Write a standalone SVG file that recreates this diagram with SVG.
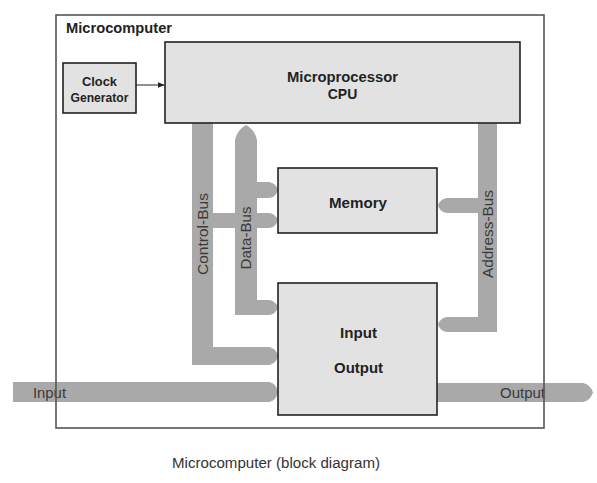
<svg xmlns="http://www.w3.org/2000/svg" width="597" height="483" viewBox="0 0 597 483">
<defs>
<style>
.bus{fill:#a9a9a9;}
.box{fill:#e2e2e2;stroke:#222;stroke-width:1.6;}
.lbl{font-family:"Liberation Sans",Arial,sans-serif;font-weight:bold;font-size:14px;fill:#222;text-anchor:middle;}
.buslbl{font-family:"Liberation Sans",Arial,sans-serif;font-size:14px;fill:#3a3a3a;}
</style>
<marker id="ah" viewBox="0 0 10 10" refX="9" refY="5" markerWidth="7" markerHeight="7" orient="auto">
<path d="M0,1 L10,5 L0,9 Z" fill="#222"/>
</marker>
</defs>
<rect width="597" height="483" fill="#fff"/>
<g id="connectors">
<path id="control-bus" class="bus" d="M192,123 H213 V213 H269 Q276,214 278,220.5 Q276,227 269,228 H213 V347 H269 Q276,348 278,356 Q276,364 269,365 H192 Z"/>
<path id="data-bus" class="bus" d="M235,140 Q237,130 246,125 Q255,130 257,140 V182 H269 Q276,183 278,190 Q276,197 269,198 H257 V300 H269 Q276,301 278,307.5 Q276,314 269,315 H235 Z"/>
<path id="address-bus" class="bus" d="M478,123 H497 V332 H447 Q440,331 438,324.5 Q440,318 447,317 H478 V213 H447 Q440,212 438,205.5 Q440,199 447,198 H478 Z"/>
<path id="input-arrow" class="bus" d="M13,382 H269 Q276,383 278,392 Q276,401 269,402 H13 Z"/>
<path id="output-arrow" class="bus" d="M437,383 H583 Q590,384 593,392.5 Q590,401 583,402 H437 Z"/>
<line x1="120" y1="85" x2="164" y2="85" stroke="#222" stroke-width="1" marker-end="url(#ah)"/>
<text class="buslbl" transform="translate(207.5,234) rotate(-90)" text-anchor="middle" textLength="82" lengthAdjust="spacingAndGlyphs">Control-Bus</text>
<text class="buslbl" transform="translate(250.5,238) rotate(-90)" text-anchor="middle" textLength="63" lengthAdjust="spacingAndGlyphs">Data-Bus</text>
<text class="buslbl" transform="translate(492.5,234) rotate(-90)" text-anchor="middle" textLength="88" lengthAdjust="spacingAndGlyphs">Address-Bus</text>
<text class="buslbl" x="33" y="398" textLength="33" lengthAdjust="spacingAndGlyphs">Input</text>
<text class="buslbl" x="500" y="398" textLength="45" lengthAdjust="spacingAndGlyphs">Output</text>
</g>
<g id="microcomputer">
<rect x="56" y="15" width="488" height="413" fill="none" stroke="#555" stroke-width="1.6"/>
<text class="lbl" x="66" y="33" style="text-anchor:start" textLength="106" lengthAdjust="spacingAndGlyphs">Microcomputer</text>
</g>
<g id="clock-generator">
<rect class="box" x="63" y="63" width="73" height="50"/>
<text class="lbl" x="99.5" y="86" style="font-size:12px" textLength="35" lengthAdjust="spacingAndGlyphs">Clock</text>
<text class="lbl" x="99.5" y="102" style="font-size:12px" textLength="58" lengthAdjust="spacingAndGlyphs">Generator</text>
</g>
<g id="cpu">
<rect class="box" x="165" y="42" width="355" height="81"/>
<text class="lbl" x="342.5" y="82" textLength="111" lengthAdjust="spacingAndGlyphs">Microprocessor</text>
<text class="lbl" x="342.5" y="99">CPU</text>
</g>
<g id="memory">
<rect class="box" x="278" y="168" width="159" height="65"/>
<text class="lbl" x="358" y="208" textLength="58" lengthAdjust="spacingAndGlyphs">Memory</text>
</g>
<g id="io">
<rect class="box" x="278" y="283" width="159" height="132"/>
<text class="lbl" x="358.5" y="338" textLength="37" lengthAdjust="spacingAndGlyphs">Input</text>
<text class="lbl" x="358.5" y="373" textLength="49" lengthAdjust="spacingAndGlyphs">Output</text>
</g>
<text x="276" y="468" font-family="'Liberation Sans',Arial,sans-serif" font-size="14" fill="#333" text-anchor="middle" textLength="208" lengthAdjust="spacingAndGlyphs">Microcomputer (block diagram)</text>
</svg>
